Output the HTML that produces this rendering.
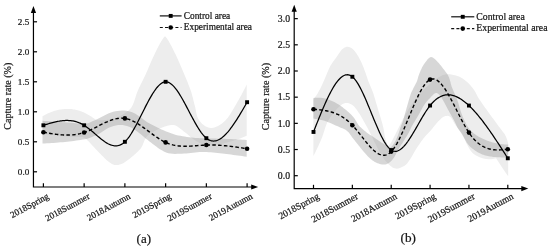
<!DOCTYPE html><html><head><meta charset="utf-8"><title>Capture rate</title><style>html,body{margin:0;padding:0;background:#fff}svg{display:block}</style></head><body><svg width="550" height="249" viewBox="0 0 550 249" font-family="'Liberation Serif', 'Times New Roman', serif" fill="#111"><style>text{stroke:#222;stroke-width:0.22px}</style>
<rect width="550" height="249" fill="#fff"/>
<path d="M42.5 116.18 L43.41 115.66 L44.33 115.16 L45.25 114.69 L46.18 114.22 L47.12 113.78 L48.07 113.35 L49.02 112.93 L49.99 112.53 L50.96 112.14 L51.93 111.77 L52.91 111.43 L53.9 111.11 L54.9 110.81 L55.9 110.53 L56.91 110.26 L57.93 110.02 L58.96 109.79 L60 109.59 L61.03 109.41 L62.07 109.26 L63.11 109.14 L64.15 109.04 L65.19 108.97 L66.24 108.93 L67.27 108.91 L68.31 108.92 L69.35 108.96 L70.38 109.03 L71.41 109.12 L72.43 109.24 L73.46 109.39 L74.48 109.56 L75.51 109.77 L76.53 110 L77.54 110.26 L78.56 110.55 L79.57 110.87 L80.58 111.22 L81.57 111.58 L82.55 111.95 L83.51 112.33 L84.46 112.74 L85.4 113.18 L86.32 113.65 L87.24 114.16 L88.14 114.68 L89.04 115.21 L89.93 115.75 L90.81 116.3 L91.7 116.84 L92.54 117.42 L93.36 118.01 L94.2 118.6 L95.13 119.16 L96.15 119.64 L97.18 119.96 L98.22 120.17 L99.25 120.27 L100.29 120.3 L101.33 120.28 L102.36 120.23 L103.4 120.18 L104.43 120.12 L105.46 120.05 L106.5 119.96 L107.53 119.84 L108.56 119.7 L109.59 119.53 L110.63 119.33 L111.66 119.09 L112.68 118.81 L113.69 118.51 L114.68 118.19 L115.66 117.84 L116.62 117.48 L117.58 117.09 L118.54 116.67 L119.49 116.24 L120.44 115.79 L121.37 115.31 L122.28 114.81 L123.17 114.28 L124.04 113.73 L124.91 113.16 L125.78 112.56 L126.64 111.94 L127.49 111.3 L128.32 110.64 L129.12 109.96 L129.88 109.24 L130.58 108.47 L131.22 107.65 L131.79 106.77 L132.29 105.84 L132.75 104.89 L133.17 103.92 L133.57 102.95 L133.94 101.98 L134.29 100.99 L134.63 100.01 L134.95 99.02 L135.27 98.02 L135.58 97.03 L135.89 96.04 L136.21 95.05 L136.53 94.06 L136.87 93.08 L137.23 92.11 L137.6 91.14 L138 90.18 L138.43 89.24 L138.87 88.3 L139.32 87.36 L139.78 86.42 L140.23 85.49 L140.69 84.55 L141.15 83.62 L141.62 82.68 L142.08 81.75 L142.54 80.82 L143 79.88 L143.46 78.95 L143.92 78.01 L144.38 77.07 L144.83 76.13 L145.27 75.19 L145.71 74.25 L146.15 73.3 L146.58 72.35 L147 71.4 L147.41 70.44 L147.82 69.49 L148.22 68.53 L148.62 67.57 L149.03 66.6 L149.43 65.65 L149.84 64.69 L150.25 63.73 L150.67 62.78 L151.09 61.82 L151.51 60.87 L151.94 59.92 L152.36 58.97 L152.79 58.02 L153.22 57.07 L153.66 56.13 L154.1 55.18 L154.54 54.24 L154.99 53.3 L155.44 52.36 L155.89 51.42 L156.35 50.49 L156.81 49.55 L157.28 48.62 L157.76 47.7 L158.24 46.77 L158.72 45.85 L159.21 44.93 L159.71 44.02 L160.23 43.11 L160.75 42.21 L161.27 41.31 L161.81 40.42 L162.37 39.54 L162.96 38.68 L163.57 37.84 L164.26 37.06 L165 36.32 L165.96 37.3 L166.81 38.35 L167.58 39.48 L168.32 40.62 L169.01 41.8 L169.69 42.97 L170.36 44.16 L171.01 45.35 L171.65 46.56 L172.28 47.77 L172.9 48.98 L173.51 50.2 L174.11 51.42 L174.7 52.64 L175.29 53.87 L175.87 55.1 L176.44 56.34 L177.01 57.58 L177.57 58.82 L178.13 60.06 L178.68 61.3 L179.23 62.55 L179.78 63.8 L180.31 65.05 L180.85 66.3 L181.38 67.55 L181.91 68.81 L182.44 70.06 L182.97 71.32 L183.5 72.57 L184.03 73.82 L184.56 75.08 L185.09 76.33 L185.62 77.58 L186.15 78.84 L186.67 80.1 L187.19 81.35 L187.71 82.62 L188.22 83.88 L188.72 85.14 L189.21 86.41 L189.7 87.69 L190.18 88.96 L190.64 90.24 L191.07 91.54 L191.47 92.84 L191.85 94.14 L192.21 95.46 L192.55 96.77 L192.89 98.09 L193.22 99.42 L193.54 100.74 L193.87 102.06 L194.2 103.39 L194.54 104.71 L194.89 106.02 L195.24 107.33 L195.53 108.64 L195.78 109.95 L196.01 111.25 L196.24 112.55 L196.51 113.85 L196.83 115.14 L197.24 116.44 L197.74 117.73 L198.38 119.03 L199.17 120.32 L200.11 121.6 L201.14 122.79 L202.23 123.89 L203.39 124.87 L204.58 125.74 L205.81 126.48 L207.06 127.09 L208.31 127.55 L209.56 127.86 L210.79 128.01 L211.99 127.98 L213.19 127.82 L214.39 127.53 L215.6 127.12 L216.82 126.61 L218.03 126.01 L219.24 125.31 L220.45 124.52 L221.64 123.66 L222.82 122.72 L223.99 121.73 L225.14 120.67 L226.2 119.6 L227.15 118.53 L228.01 117.45 L228.8 116.37 L229.53 115.28 L230.23 114.18 L230.91 113.05 L231.58 111.91 L232.27 110.74 L232.97 109.57 L233.67 108.39 L234.36 107.22 L235.06 106.05 L235.75 104.88 L236.44 103.7 L237.13 102.53 L237.81 101.35 L238.49 100.17 L239.16 98.99 L239.82 97.8 L240.48 96.61 L241.14 95.42 L241.78 94.22 L242.41 93.01 L243.05 91.81 L243.67 90.6 L244.29 89.39 L244.91 88.17 L245.52 86.95 L246.11 85.73 L246.7 84.5 L246.7 135.8 L245.5 136.34 L244.3 136.86 L243.09 137.35 L241.88 137.83 L240.66 138.29 L239.44 138.73 L238.22 139.16 L237 139.57 L235.77 139.96 L234.54 140.35 L233.3 140.72 L232.07 141.08 L230.83 141.44 L229.59 141.78 L228.35 142.12 L227.1 142.45 L225.86 142.78 L224.61 143.1 L223.35 143.41 L222.08 143.71 L220.8 144 L219.51 144.26 L218.22 144.49 L216.91 144.7 L215.61 144.87 L214.31 145.01 L213 145.11 L211.7 145.17 L210.41 145.18 L209.12 145.14 L207.84 145.04 L206.57 144.89 L205.31 144.67 L204.06 144.39 L202.82 144.04 L201.6 143.64 L200.39 143.17 L199.19 142.65 L198.01 142.08 L196.85 141.45 L195.72 140.79 L194.6 140.08 L193.51 139.33 L192.45 138.54 L191.41 137.73 L190.42 136.88 L189.45 136.02 L188.49 135.16 L187.53 134.3 L186.55 133.47 L185.54 132.68 L184.51 131.9 L183.47 131.13 L182.44 130.35 L181.41 129.58 L180.41 128.78 L179.42 127.97 L178.41 127.17 L177.33 126.38 L176.15 125.74 L174.9 125.31 L173.62 125.07 L172.33 125 L171.06 125.06 L169.78 125.21 L168.51 125.45 L167.24 125.79 L165.98 126.2 L164.74 126.62 L163.52 127.06 L162.31 127.5 L161.11 127.96 L159.92 128.44 L158.74 128.95 L157.56 129.48 L156.39 130.05 L155.25 130.65 L154.12 131.27 L153 131.91 L151.88 132.57 L150.78 133.26 L149.71 133.98 L148.69 134.77 L147.7 135.61 L146.8 136.54 L146.02 137.56 L145.35 138.66 L144.76 139.82 L144.23 141.03 L143.74 142.25 L143.26 143.49 L142.76 144.71 L142.22 145.91 L141.62 147.06 L140.94 148.14 L140.14 149.15 L139.25 150.09 L138.35 151.01 L137.44 151.92 L136.51 152.82 L135.56 153.7 L134.61 154.57 L133.63 155.42 L132.64 156.26 L131.64 157.1 L130.63 157.91 L129.63 158.7 L128.61 159.48 L127.58 160.24 L126.53 160.99 L125.46 161.73 L124.36 162.46 L123.22 163.14 L122.04 163.72 L120.84 164.21 L119.62 164.61 L118.39 164.93 L117.12 165.11 L115.81 165.12 L114.49 164.95 L113.2 164.57 L111.98 163.99 L110.84 163.29 L109.74 162.57 L108.69 161.82 L107.68 161.03 L106.71 160.21 L105.76 159.34 L104.84 158.44 L103.93 157.52 L103.02 156.6 L102.11 155.67 L101.21 154.75 L100.3 153.83 L99.4 152.9 L98.5 151.97 L97.61 151.04 L96.71 150.11 L95.82 149.18 L94.93 148.25 L94.04 147.31 L93.16 146.36 L92.29 145.41 L91.43 144.45 L90.56 143.49 L89.69 142.53 L88.8 141.59 L87.87 140.63 L86.91 139.69 L85.88 138.82 L84.8 138.06 L83.66 137.47 L82.43 137.08 L81.15 136.9 L79.86 136.8 L78.57 136.77 L77.27 136.76 L75.98 136.78 L74.69 136.78 L73.39 136.77 L72.1 136.71 L70.81 136.62 L69.53 136.52 L68.24 136.44 L66.95 136.35 L65.66 136.25 L64.37 136.16 L63.08 136.06 L61.79 135.96 L60.5 135.85 L59.22 135.73 L57.93 135.61 L56.64 135.49 L55.35 135.36 L54.07 135.24 L52.78 135.11 L51.5 134.98 L50.21 134.85 L48.92 134.71 L47.64 134.58 L46.35 134.44 L45.07 134.29 L43.78 134.15 L42.5 134Z" fill="#ededed"/>
<path d="M42.5 120.8 L44.71 120.95 L46.93 121.1 L49.14 121.25 L51.35 121.4 L53.56 121.55 L55.77 121.71 L57.99 121.86 L60.2 122.01 L62.41 122.17 L64.62 122.34 L66.83 122.51 L69.05 122.69 L71.26 122.87 L73.47 123.05 L75.68 123.23 L77.89 123.39 L80.1 123.55 L82.31 123.7 L84.52 123.81 L86.69 123.57 L88.81 122.95 L90.9 122.08 L92.97 121.11 L95.03 120.19 L97.06 119.27 L99.03 118.28 L100.97 117.25 L102.9 116.19 L104.85 115.15 L106.84 114.16 L108.9 113.24 L111.03 112.44 L113.2 111.78 L115.4 111.26 L117.61 110.89 L119.82 110.65 L122.02 110.55 L124.2 110.59 L126.37 110.8 L128.53 111.19 L130.68 111.77 L132.8 112.55 L134.88 113.54 L136.89 114.68 L138.78 115.92 L140.59 117.22 L142.35 118.56 L144.1 119.88 L145.86 121.18 L147.66 122.41 L149.54 123.55 L151.49 124.59 L153.46 125.62 L155.43 126.62 L157.41 127.6 L159.41 128.55 L161.43 129.47 L163.47 130.36 L165.54 131.22 L167.61 132.05 L169.69 132.84 L171.78 133.58 L173.88 134.27 L176.01 134.88 L178.16 135.42 L180.35 135.86 L182.54 136.25 L184.74 136.61 L186.94 136.93 L189.15 137.22 L191.35 137.48 L193.55 137.71 L195.76 137.92 L197.97 138.09 L200.18 138.24 L202.39 138.36 L204.6 138.45 L206.82 138.52 L209.04 138.57 L211.26 138.59 L213.47 138.61 L215.69 138.62 L217.91 138.64 L220.13 138.66 L222.34 138.71 L224.56 138.78 L226.77 138.88 L228.99 138.98 L231.2 139.08 L233.42 139.19 L235.63 139.3 L237.85 139.42 L240.06 139.55 L242.27 139.69 L244.49 139.84 L246.7 140 L246.7 156.8 L244.48 156.45 L242.25 156.12 L240.02 155.79 L237.8 155.48 L235.57 155.18 L233.34 154.88 L231.1 154.59 L228.87 154.3 L226.63 154.01 L224.4 153.72 L222.16 153.45 L219.92 153.2 L217.68 152.96 L215.44 152.74 L213.2 152.54 L210.95 152.35 L208.71 152.18 L206.47 152.03 L204.22 151.92 L201.98 151.92 L199.73 152.01 L197.49 152.17 L195.24 152.38 L192.99 152.63 L190.75 152.9 L188.5 153.16 L186.25 153.4 L184.01 153.6 L181.76 153.74 L179.52 153.81 L177.27 153.86 L175.02 153.88 L172.77 153.81 L170.54 153.59 L168.31 153.16 L166.09 152.46 L163.91 151.47 L161.85 150.36 L159.9 149.17 L158.05 147.92 L156.25 146.62 L154.5 145.28 L152.75 143.92 L150.99 142.55 L149.2 141.19 L147.43 139.8 L145.7 138.39 L143.99 136.96 L142.27 135.53 L140.55 134.1 L138.8 132.68 L137.01 131.28 L135.16 129.91 L133.23 128.64 L131.21 127.56 L129.11 126.66 L126.98 125.94 L124.82 125.4 L122.64 125.07 L120.4 124.97 L118.13 125.1 L115.86 125.43 L113.6 125.95 L111.39 126.65 L109.25 127.51 L107.21 128.53 L105.26 129.68 L103.37 130.91 L101.49 132.16 L99.61 133.38 L97.68 134.52 L95.67 135.52 L93.58 136.37 L91.48 137.2 L89.36 137.98 L87.22 138.66 L85.03 139.21 L82.81 139.6 L80.58 139.95 L78.35 140.29 L76.12 140.61 L73.89 140.92 L71.66 141.2 L69.42 141.47 L67.19 141.72 L64.95 141.95 L62.71 142.17 L60.47 142.36 L58.22 142.54 L55.98 142.73 L53.74 142.9 L51.49 143.07 L49.25 143.23 L47 143.37 L44.75 143.5 L42.5 143.6Z" fill="rgba(150,150,150,0.385)"/>
<path d="M43.4 125.3 L44.42 124.99 L45.44 124.67 L46.46 124.36 L47.47 124.05 L48.49 123.75 L49.51 123.46 L50.53 123.17 L51.55 122.88 L52.57 122.61 L53.59 122.35 L54.6 122.1 L55.62 121.87 L56.64 121.64 L57.66 121.44 L58.68 121.25 L59.7 121.07 L60.71 120.92 L61.73 120.78 L62.75 120.67 L63.77 120.58 L64.79 120.52 L65.81 120.47 L66.83 120.46 L67.84 120.47 L68.86 120.51 L69.88 120.58 L70.9 120.68 L71.92 120.81 L72.94 120.97 L73.95 121.17 L74.97 121.41 L75.99 121.68 L77.01 121.99 L78.03 122.33 L79.05 122.72 L80.07 123.15 L81.08 123.62 L82.1 124.13 L83.12 124.69 L84.14 125.3 L85.16 125.95 L86.18 126.65 L87.2 127.38 L88.21 128.15 L89.23 128.94 L90.25 129.77 L91.27 130.61 L92.29 131.47 L93.31 132.34 L94.33 133.22 L95.34 134.11 L96.36 134.99 L97.38 135.87 L98.4 136.74 L99.42 137.6 L100.44 138.43 L101.45 139.25 L102.47 140.04 L103.49 140.79 L104.51 141.52 L105.53 142.2 L106.55 142.84 L107.57 143.43 L108.58 143.96 L109.6 144.44 L110.62 144.86 L111.64 145.21 L112.66 145.49 L113.68 145.7 L114.69 145.83 L115.71 145.87 L116.73 145.83 L117.75 145.69 L118.77 145.46 L119.79 145.13 L120.81 144.69 L121.82 144.14 L122.84 143.48 L123.86 142.7 L124.88 141.8 L125.9 140.77 L126.92 139.63 L127.94 138.37 L128.95 137.01 L129.97 135.55 L130.99 134 L132.01 132.37 L133.03 130.67 L134.05 128.9 L135.06 127.07 L136.08 125.18 L137.1 123.26 L138.12 121.29 L139.14 119.3 L140.16 117.29 L141.18 115.26 L142.19 113.22 L143.21 111.19 L144.23 109.16 L145.25 107.15 L146.27 105.16 L147.29 103.21 L148.31 101.29 L149.32 99.42 L150.34 97.6 L151.36 95.84 L152.38 94.15 L153.4 92.53 L154.42 91 L155.44 89.56 L156.45 88.22 L157.47 86.98 L158.49 85.86 L159.51 84.86 L160.53 83.98 L161.55 83.25 L162.56 82.65 L163.58 82.21 L164.6 81.92 L165.62 81.8 L166.64 81.85 L167.66 82.07 L168.68 82.44 L169.69 82.97 L170.71 83.64 L171.73 84.44 L172.75 85.37 L173.77 86.42 L174.79 87.59 L175.81 88.86 L176.82 90.22 L177.84 91.68 L178.86 93.22 L179.88 94.83 L180.9 96.51 L181.92 98.26 L182.93 100.05 L183.95 101.89 L184.97 103.76 L185.99 105.66 L187.01 107.59 L188.03 109.53 L189.05 111.47 L190.06 113.42 L191.08 115.35 L192.1 117.27 L193.12 119.17 L194.14 121.03 L195.16 122.86 L196.18 124.64 L197.19 126.36 L198.21 128.03 L199.23 129.62 L200.25 131.14 L201.27 132.57 L202.29 133.91 L203.3 135.15 L204.32 136.28 L205.34 137.3 L206.36 138.2 L207.38 138.97 L208.4 139.61 L209.42 140.13 L210.43 140.53 L211.45 140.81 L212.47 140.97 L213.49 141.03 L214.51 140.98 L215.53 140.83 L216.55 140.57 L217.56 140.22 L218.58 139.77 L219.6 139.23 L220.62 138.61 L221.64 137.9 L222.66 137.11 L223.67 136.24 L224.69 135.29 L225.71 134.28 L226.73 133.2 L227.75 132.05 L228.77 130.84 L229.79 129.57 L230.8 128.24 L231.82 126.87 L232.84 125.44 L233.86 123.97 L234.88 122.46 L235.9 120.91 L236.92 119.32 L237.93 117.7 L238.95 116.05 L239.97 114.38 L240.99 112.68 L242.01 110.96 L243.03 109.23 L244.04 107.48 L245.06 105.73 L246.08 103.97 L247.1 102.2" fill="none" stroke="#000" stroke-width="1.25"/>
<path d="M43.4 132.2 L44.42 132.38 L45.44 132.56 L46.46 132.75 L47.47 132.92 L48.49 133.1 L49.51 133.27 L50.53 133.44 L51.55 133.61 L52.57 133.76 L53.59 133.92 L54.6 134.06 L55.62 134.2 L56.64 134.33 L57.66 134.46 L58.68 134.57 L59.7 134.67 L60.71 134.77 L61.73 134.85 L62.75 134.92 L63.77 134.98 L64.79 135.02 L65.81 135.05 L66.83 135.07 L67.84 135.07 L68.86 135.06 L69.88 135.03 L70.9 134.98 L71.92 134.91 L72.94 134.83 L73.95 134.72 L74.97 134.6 L75.99 134.46 L77.01 134.29 L78.03 134.11 L79.05 133.9 L80.07 133.67 L81.08 133.41 L82.1 133.13 L83.12 132.83 L84.14 132.5 L85.16 132.14 L86.18 131.76 L87.2 131.36 L88.21 130.94 L89.23 130.5 L90.25 130.04 L91.27 129.57 L92.29 129.08 L93.31 128.59 L94.33 128.08 L95.34 127.57 L96.36 127.05 L97.38 126.53 L98.4 126.01 L99.42 125.49 L100.44 124.97 L101.45 124.46 L102.47 123.95 L103.49 123.46 L104.51 122.97 L105.53 122.49 L106.55 122.03 L107.57 121.59 L108.58 121.16 L109.6 120.76 L110.62 120.37 L111.64 120.01 L112.66 119.68 L113.68 119.37 L114.69 119.1 L115.71 118.85 L116.73 118.64 L117.75 118.47 L118.77 118.33 L119.79 118.23 L120.81 118.17 L121.82 118.16 L122.84 118.19 L123.86 118.27 L124.88 118.4 L125.9 118.58 L126.92 118.81 L127.94 119.08 L128.95 119.4 L129.97 119.76 L130.99 120.16 L132.01 120.6 L133.03 121.08 L134.05 121.59 L135.06 122.13 L136.08 122.7 L137.1 123.3 L138.12 123.92 L139.14 124.57 L140.16 125.24 L141.18 125.93 L142.19 126.63 L143.21 127.35 L144.23 128.07 L145.25 128.81 L146.27 129.56 L147.29 130.32 L148.31 131.07 L149.32 131.83 L150.34 132.59 L151.36 133.34 L152.38 134.09 L153.4 134.84 L154.42 135.57 L155.44 136.29 L156.45 137 L157.47 137.69 L158.49 138.36 L159.51 139.02 L160.53 139.65 L161.55 140.26 L162.56 140.84 L163.58 141.39 L164.6 141.91 L165.62 142.4 L166.64 142.85 L167.66 143.27 L168.68 143.66 L169.69 144.01 L170.71 144.34 L171.73 144.63 L172.75 144.9 L173.77 145.13 L174.79 145.35 L175.81 145.53 L176.82 145.7 L177.84 145.84 L178.86 145.95 L179.88 146.05 L180.9 146.13 L181.92 146.19 L182.93 146.23 L183.95 146.26 L184.97 146.27 L185.99 146.27 L187.01 146.25 L188.03 146.23 L189.05 146.19 L190.06 146.14 L191.08 146.09 L192.1 146.02 L193.12 145.96 L194.14 145.88 L195.16 145.81 L196.18 145.73 L197.19 145.65 L198.21 145.57 L199.23 145.49 L200.25 145.41 L201.27 145.33 L202.29 145.26 L203.3 145.2 L204.32 145.14 L205.34 145.08 L206.36 145.04 L207.38 145.01 L208.4 144.98 L209.42 144.97 L210.43 144.96 L211.45 144.96 L212.47 144.97 L213.49 144.99 L214.51 145.02 L215.53 145.06 L216.55 145.1 L217.56 145.15 L218.58 145.21 L219.6 145.27 L220.62 145.34 L221.64 145.42 L222.66 145.5 L223.67 145.59 L224.69 145.69 L225.71 145.79 L226.73 145.89 L227.75 146 L228.77 146.12 L229.79 146.24 L230.8 146.36 L231.82 146.49 L232.84 146.62 L233.86 146.75 L234.88 146.89 L235.9 147.03 L236.92 147.17 L237.93 147.32 L238.95 147.47 L239.97 147.62 L240.99 147.77 L242.01 147.92 L243.03 148.08 L244.04 148.23 L245.06 148.39 L246.08 148.54 L247.1 148.7" fill="none" stroke="#000" stroke-width="1.4" stroke-dasharray="3.5 2.3"/>
<rect x="41.45" y="123.35" width="3.9" height="3.9" fill="#000"/><rect x="82.19" y="123.35" width="3.9" height="3.9" fill="#000"/><rect x="122.93" y="139.85" width="3.9" height="3.9" fill="#000"/><rect x="163.67" y="79.85" width="3.9" height="3.9" fill="#000"/><rect x="204.41" y="136.25" width="3.9" height="3.9" fill="#000"/><rect x="245.15" y="100.25" width="3.9" height="3.9" fill="#000"/>
<circle cx="43.4" cy="132.2" r="2.3" fill="#000"/><circle cx="84.14" cy="132.5" r="2.3" fill="#000"/><circle cx="124.88" cy="118.4" r="2.3" fill="#000"/><circle cx="165.62" cy="142.4" r="2.3" fill="#000"/><circle cx="206.36" cy="145.04" r="2.3" fill="#000"/><circle cx="247.1" cy="148.7" r="2.3" fill="#000"/>
<path d="M33.45 11 V187 H253.2" fill="none" stroke="#000" stroke-width="1.2"/><path d="M33.45 6 l-2.6 7 h5.2z" fill="#000"/><path d="M258.2 187 l-7 -2.6 v5.2z" fill="#000"/><path d="M33.45 171.8 h3.6" stroke="#000" stroke-width="1.2"/><text x="29.25" y="174.82" font-size="9.15" text-anchor="end">0.0</text><path d="M33.45 141.8 h3.6" stroke="#000" stroke-width="1.2"/><text x="29.25" y="144.82" font-size="9.15" text-anchor="end">0.5</text><path d="M33.45 111.8 h3.6" stroke="#000" stroke-width="1.2"/><text x="29.25" y="114.82" font-size="9.15" text-anchor="end">1.0</text><path d="M33.45 81.8 h3.6" stroke="#000" stroke-width="1.2"/><text x="29.25" y="84.82" font-size="9.15" text-anchor="end">1.5</text><path d="M33.45 51.8 h3.6" stroke="#000" stroke-width="1.2"/><text x="29.25" y="54.82" font-size="9.15" text-anchor="end">2.0</text><path d="M33.45 21.8 h3.6" stroke="#000" stroke-width="1.2"/><text x="29.25" y="24.82" font-size="9.15" text-anchor="end">2.5</text><path d="M43.4 187 v-3.8" stroke="#000" stroke-width="1.2"/><text transform="translate(49.6 198) rotate(-28.5)" font-size="9.1" text-anchor="end">2018Spring</text><path d="M84.14 187 v-3.8" stroke="#000" stroke-width="1.2"/><text transform="translate(90.34 198) rotate(-28.5)" font-size="9.1" text-anchor="end">2018Summer</text><path d="M124.88 187 v-3.8" stroke="#000" stroke-width="1.2"/><text transform="translate(131.08 198) rotate(-28.5)" font-size="9.1" text-anchor="end">2018Autumn</text><path d="M165.62 187 v-3.8" stroke="#000" stroke-width="1.2"/><text transform="translate(171.82 198) rotate(-28.5)" font-size="9.1" text-anchor="end">2019Spring</text><path d="M206.36 187 v-3.8" stroke="#000" stroke-width="1.2"/><text transform="translate(212.56 198) rotate(-28.5)" font-size="9.1" text-anchor="end">2019Summer</text><path d="M247.1 187 v-3.8" stroke="#000" stroke-width="1.2"/><text transform="translate(253.3 198) rotate(-28.5)" font-size="9.1" text-anchor="end">2019Autumn</text><text transform="translate(11.2 96.2) rotate(-90)" font-size="10.05" text-anchor="middle">Capture rate (%)</text>
<path d="M159.8 15.9 H181.6" stroke="#111" stroke-width="1.2"/><rect x="168.75" y="13.95" width="3.9" height="3.9" fill="#000"/><path d="M159.8 27.5 H181.6" stroke="#111" stroke-width="1.2" stroke-dasharray="3 2.2"/><circle cx="170.7" cy="27.5" r="2.3" fill="#000"/><text x="183.8" y="18.52" font-size="9.35">Control area</text><text x="183.8" y="30.12" font-size="9.35">Experimental area</text>
<text x="143.8" y="242.7" font-size="13" text-anchor="middle">(a)</text>
<path d="M313.4 99.5 L314.06 98.63 L314.71 97.75 L315.35 96.86 L315.97 95.97 L316.58 95.06 L317.17 94.15 L317.74 93.23 L318.29 92.29 L318.82 91.34 L319.33 90.37 L319.83 89.4 L320.32 88.43 L320.8 87.46 L321.28 86.48 L321.75 85.5 L322.22 84.51 L322.67 83.53 L323.13 82.54 L323.58 81.54 L324.02 80.55 L324.45 79.55 L324.88 78.55 L325.29 77.54 L325.7 76.53 L326.11 75.53 L326.53 74.52 L326.94 73.51 L327.37 72.51 L327.8 71.51 L328.23 70.51 L328.67 69.51 L329.12 68.52 L329.59 67.53 L330.08 66.56 L330.6 65.6 L331.15 64.66 L331.73 63.74 L332.34 62.83 L332.96 61.94 L333.6 61.06 L334.24 60.18 L334.89 59.3 L335.53 58.42 L336.17 57.55 L336.81 56.66 L337.43 55.77 L338.04 54.87 L338.64 53.97 L339.24 53.06 L339.85 52.15 L340.46 51.25 L341.1 50.39 L341.8 49.61 L342.6 48.88 L343.52 48.19 L344.55 47.56 L345.58 47.13 L346.62 46.87 L347.66 46.8 L348.7 46.89 L349.74 47.17 L350.78 47.63 L351.8 48.27 L352.69 48.98 L353.45 49.72 L354.15 50.5 L354.82 51.35 L355.49 52.22 L356.14 53.1 L356.77 53.98 L357.37 54.88 L357.94 55.81 L358.47 56.77 L358.99 57.72 L359.51 58.69 L360.01 59.65 L360.5 60.62 L360.97 61.6 L361.43 62.59 L361.88 63.58 L362.3 64.58 L362.72 65.59 L363.14 66.6 L363.55 67.6 L363.95 68.62 L364.34 69.63 L364.73 70.65 L365.11 71.67 L365.47 72.69 L365.83 73.72 L366.17 74.76 L366.51 75.79 L366.85 76.82 L367.2 77.86 L367.55 78.89 L367.91 79.92 L368.28 80.94 L368.67 81.95 L369.07 82.96 L369.49 83.97 L369.91 84.98 L370.33 85.98 L370.76 86.99 L371.18 87.99 L371.6 89 L372.01 90.01 L372.41 91.02 L372.79 92.04 L373.16 93.06 L373.51 94.09 L373.84 95.13 L374.16 96.17 L374.47 97.21 L374.78 98.26 L375.09 99.3 L375.4 100.34 L375.7 101.39 L376.01 102.43 L376.32 103.48 L376.63 104.52 L376.93 105.56 L377.24 106.61 L377.56 107.65 L377.87 108.69 L378.18 109.74 L378.5 110.78 L378.81 111.82 L379.13 112.86 L379.45 113.9 L379.76 114.94 L380.08 115.99 L380.39 117.03 L380.71 118.07 L381.02 119.11 L381.34 120.16 L381.65 121.2 L381.95 122.25 L382.23 123.3 L382.5 124.35 L382.77 125.41 L383.03 126.46 L383.28 127.52 L383.53 128.58 L383.75 129.65 L383.94 130.72 L384.11 131.8 L384.27 132.88 L384.43 133.95 L384.61 135.03 L384.81 136.1 L385.04 137.16 L385.29 138.22 L385.57 139.27 L385.87 140.31 L386.18 141.35 L386.52 142.39 L386.87 143.42 L387.23 144.45 L387.61 145.48 L388 146.5 L388.79 145.57 L389.57 144.64 L390.31 143.68 L391.01 142.7 L391.64 141.68 L392.19 140.61 L392.73 139.53 L393.27 138.45 L393.81 137.37 L394.35 136.3 L394.89 135.22 L395.43 134.14 L395.97 133.06 L396.51 131.98 L397.05 130.9 L397.59 129.82 L398.13 128.74 L398.67 127.67 L399.21 126.59 L399.75 125.51 L400.29 124.43 L400.82 123.35 L401.36 122.27 L401.9 121.19 L402.44 120.11 L402.98 119.04 L403.53 117.96 L404.09 116.9 L404.67 115.84 L405.26 114.79 L405.86 113.74 L406.48 112.7 L407.1 111.67 L407.73 110.64 L408.36 109.61 L409 108.59 L409.64 107.56 L410.29 106.54 L410.95 105.53 L411.61 104.52 L412.29 103.52 L412.98 102.54 L413.68 101.56 L414.4 100.59 L415.12 99.62 L415.86 98.67 L416.6 97.72 L417.36 96.77 L418.13 95.84 L418.92 94.92 L419.71 94.01 L420.52 93.11 L421.33 92.23 L422.16 91.35 L423 90.49 L423.84 89.63 L424.7 88.78 L425.56 87.93 L426.43 87.09 L427.31 86.26 L428.19 85.44 L429.09 84.64 L429.99 83.85 L430.91 83.06 L431.83 82.28 L432.76 81.51 L433.7 80.75 L434.64 79.99 L435.6 79.27 L436.58 78.59 L437.58 77.94 L438.6 77.31 L439.66 76.71 L440.75 76.13 L441.88 75.58 L443.03 75.12 L444.19 74.74 L445.36 74.46 L446.54 74.28 L447.72 74.19 L448.92 74.19 L450.12 74.28 L451.32 74.43 L452.52 74.65 L453.71 74.93 L454.89 75.24 L456.05 75.58 L457.19 75.95 L458.32 76.36 L459.43 76.83 L460.53 77.37 L461.6 77.95 L462.64 78.57 L463.64 79.22 L464.62 79.92 L465.58 80.66 L466.51 81.44 L467.42 82.24 L468.29 83.07 L469.13 83.92 L469.95 84.81 L470.74 85.74 L471.51 86.67 L472.27 87.61 L473 88.57 L473.7 89.55 L474.38 90.54 L475.03 91.56 L475.64 92.6 L476.19 93.68 L476.72 94.76 L477.26 95.84 L477.83 96.91 L478.46 97.93 L479.13 98.93 L479.8 99.93 L480.48 100.93 L481.16 101.93 L481.84 102.93 L482.52 103.92 L483.21 104.91 L483.89 105.9 L484.58 106.89 L485.28 107.88 L485.97 108.87 L486.67 109.85 L487.37 110.83 L488.08 111.81 L488.79 112.78 L489.5 113.76 L490.21 114.73 L490.92 115.7 L491.64 116.68 L492.35 117.65 L493.07 118.62 L493.78 119.59 L494.49 120.56 L495.21 121.54 L495.92 122.51 L496.64 123.48 L497.36 124.45 L498.07 125.42 L498.79 126.39 L499.51 127.35 L500.24 128.31 L500.98 129.26 L501.72 130.21 L502.45 131.17 L503.18 132.13 L503.91 133.1 L504.61 134.09 L505.22 135.13 L505.76 136.21 L506.23 137.32 L506.66 138.46 L507.05 139.61 L507.43 140.77 L507.77 141.92 L508.02 143.1 L508.2 144.3 L508.2 176.2 L507.65 175.48 L507.1 174.77 L506.56 174.04 L506.02 173.31 L505.5 172.58 L504.99 171.83 L504.48 171.08 L503.97 170.33 L503.47 169.58 L502.97 168.83 L502.47 168.08 L501.97 167.32 L501.47 166.57 L500.98 165.81 L500.49 165.05 L500 164.29 L499.51 163.53 L499.02 162.77 L498.53 162.01 L498.04 161.25 L497.55 160.49 L497.07 159.73 L496.58 158.96 L496.1 158.2 L494.96 158.52 L493.83 158.79 L492.69 158.99 L491.55 159.13 L490.41 159.19 L489.27 159.19 L488.13 159.14 L486.98 159.03 L485.84 158.88 L484.69 158.68 L483.55 158.43 L482.41 158.15 L481.3 157.83 L480.21 157.47 L479.14 157.07 L478.09 156.61 L477.05 156.1 L476.02 155.51 L475.01 154.87 L474.06 154.2 L473.15 153.47 L472.3 152.69 L471.52 151.85 L470.81 150.95 L470.16 149.97 L469.54 148.99 L468.95 148 L468.37 147 L467.82 146 L467.27 144.99 L466.74 143.97 L466.22 142.94 L465.73 141.89 L465.25 140.85 L464.77 139.8 L464.27 138.75 L463.75 137.73 L463.19 136.72 L462.61 135.72 L462.01 134.74 L461.4 133.76 L460.77 132.79 L460.14 131.82 L459.51 130.86 L458.86 129.9 L458.21 128.95 L457.56 128 L456.9 127.05 L456.24 126.11 L455.59 125.16 L454.94 124.21 L454.33 123.24 L453.77 122.25 L453.23 121.26 L452.68 120.25 L452.09 119.26 L451.44 118.27 L450.68 117.32 L449.72 116.57 L448.65 116.08 L447.58 115.87 L446.47 115.89 L445.33 116.11 L444.18 116.51 L443.09 117.08 L442.1 117.8 L441.18 118.59 L440.31 119.38 L439.48 120.18 L438.67 120.99 L437.89 121.81 L437.12 122.65 L436.37 123.5 L435.63 124.38 L434.9 125.28 L434.17 126.18 L433.46 127.08 L432.74 127.98 L432.02 128.88 L431.29 129.77 L430.54 130.65 L429.78 131.51 L428.99 132.35 L428.19 133.19 L427.39 134.01 L426.59 134.85 L425.8 135.69 L425.04 136.55 L424.3 137.44 L423.59 138.35 L422.89 139.27 L422.2 140.19 L421.52 141.12 L420.85 142.06 L420.19 143.01 L419.53 143.95 L418.88 144.9 L418.22 145.86 L417.58 146.81 L416.94 147.77 L416.31 148.74 L415.69 149.71 L415.08 150.69 L414.49 151.68 L413.92 152.68 L413.36 153.69 L412.8 154.7 L412.24 155.71 L411.67 156.71 L411.08 157.7 L410.48 158.68 L409.86 159.64 L409.22 160.59 L408.56 161.54 L407.87 162.48 L407.15 163.41 L406.36 164.25 L405.49 165 L404.55 165.67 L403.56 166.27 L402.53 166.84 L401.48 167.37 L400.4 167.87 L399.26 168.28 L398.08 168.56 L396.89 168.68 L395.73 168.62 L394.63 168.35 L393.58 167.9 L392.57 167.38 L391.59 166.78 L390.64 166.11 L389.73 165.37 L388.85 164.57 L388.02 163.72 L387.22 162.84 L386.44 161.97 L385.68 161.09 L384.94 160.21 L384.23 159.31 L383.55 158.4 L382.9 157.46 L382.29 156.49 L381.71 155.49 L381.13 154.49 L380.56 153.48 L380 152.48 L379.44 151.47 L378.88 150.46 L378.33 149.45 L377.78 148.43 L377.24 147.42 L376.71 146.39 L376.19 145.37 L375.67 144.34 L375.15 143.3 L374.64 142.27 L374.14 141.23 L373.63 140.2 L373.13 139.16 L372.63 138.12 L372.12 137.09 L371.62 136.05 L371.11 135.01 L370.6 133.98 L370.08 132.95 L369.56 131.92 L369.03 130.89 L368.5 129.87 L367.96 128.85 L367.42 127.84 L366.87 126.82 L366.31 125.81 L365.76 124.8 L365.2 123.79 L364.64 122.79 L364.07 121.78 L363.51 120.77 L362.95 119.77 L362.39 118.76 L361.82 117.75 L361.26 116.76 L360.68 115.78 L360.1 114.8 L359.5 113.84 L358.89 112.88 L358.25 111.92 L357.6 110.97 L356.93 110.03 L356.23 109.08 L355.51 108.14 L354.75 107.2 L353.91 106.32 L353 105.53 L352.03 104.82 L351.01 104.22 L349.97 103.71 L348.9 103.3 L347.84 103.01 L346.75 102.88 L345.6 102.98 L344.45 103.27 L343.31 103.73 L342.24 104.34 L341.25 105.04 L340.32 105.76 L339.43 106.49 L338.59 107.25 L337.78 108.04 L336.99 108.87 L336.22 109.74 L335.46 110.64 L334.71 111.54 L333.97 112.44 L333.23 113.34 L332.51 114.25 L331.8 115.16 L331.11 116.08 L330.44 117.02 L329.8 117.96 L329.18 118.93 L328.59 119.91 L328.03 120.92 L327.51 121.95 L327.03 123.01 L326.58 124.07 L326.15 125.15 L325.76 126.24 L325.38 127.33 L325.02 128.43 L324.67 129.53 L324.32 130.63 L323.98 131.73 L323.64 132.84 L323.29 133.93 L322.93 135.03 L322.55 136.11 L322.16 137.19 L321.74 138.26 L321.29 139.32 L320.83 140.37 L320.36 141.43 L319.89 142.48 L319.43 143.53 L318.95 144.58 L318.48 145.63 L318 146.68 L317.51 147.73 L317.02 148.77 L316.53 149.81 L316.02 150.85 L315.52 151.89 L315 152.92 L314.47 153.95 L313.94 154.98 L313.4 156Z" fill="#ededed"/>
<path d="M313.4 98 L314.71 97.83 L316.02 97.72 L317.33 97.66 L318.63 97.66 L319.94 97.7 L321.24 97.79 L322.53 97.94 L323.82 98.17 L325.11 98.46 L326.39 98.82 L327.65 99.22 L328.89 99.66 L330.11 100.13 L331.31 100.63 L332.49 101.17 L333.66 101.74 L334.82 102.35 L335.97 102.99 L337.11 103.66 L338.25 104.36 L339.38 105.08 L340.48 105.82 L341.57 106.57 L342.63 107.34 L343.68 108.13 L344.71 108.93 L345.73 109.75 L346.72 110.58 L347.71 111.44 L348.67 112.31 L349.63 113.2 L350.57 114.11 L351.49 115.04 L352.4 115.99 L353.29 116.97 L354.09 118.01 L354.82 119.1 L355.51 120.22 L356.18 121.36 L356.85 122.49 L357.54 123.61 L358.28 124.69 L359.08 125.71 L359.97 126.67 L360.92 127.58 L361.88 128.47 L362.85 129.35 L363.84 130.21 L364.85 131.05 L365.87 131.87 L366.92 132.66 L367.98 133.41 L369.07 134.15 L370.15 134.88 L371.24 135.61 L372.33 136.34 L373.41 137.07 L374.5 137.79 L375.59 138.52 L376.68 139.25 L377.76 139.98 L378.85 140.7 L379.94 141.43 L381.03 142.15 L382.12 142.88 L383.21 143.6 L384.3 144.33 L385.39 145.06 L386.45 145.82 L387.49 146.62 L388.5 147.45 L389.5 148.3 L390.5 147.62 L391.41 146.86 L392.21 145.99 L392.93 145.04 L393.62 144.08 L394.28 143.09 L394.89 142.07 L395.46 141.03 L395.98 139.96 L396.45 138.87 L396.92 137.78 L397.38 136.68 L397.81 135.58 L398.23 134.47 L398.62 133.35 L398.99 132.22 L399.35 131.09 L399.71 129.96 L400.06 128.83 L400.43 127.7 L400.8 126.58 L401.2 125.46 L401.64 124.36 L402.09 123.26 L402.53 122.16 L402.93 121.04 L403.26 119.91 L403.59 118.77 L403.92 117.63 L404.24 116.48 L404.56 115.34 L404.87 114.2 L405.19 113.06 L405.5 111.91 L405.82 110.77 L406.14 109.63 L406.46 108.49 L406.79 107.35 L407.11 106.21 L407.43 105.06 L407.76 103.92 L408.08 102.78 L408.41 101.65 L408.74 100.51 L409.07 99.37 L409.41 98.23 L409.75 97.1 L410.1 95.96 L410.46 94.83 L410.85 93.71 L411.29 92.61 L411.78 91.53 L412.29 90.46 L412.82 89.39 L413.35 88.33 L413.87 87.26 L414.4 86.2 L414.97 85.16 L415.55 84.12 L416.11 83.08 L416.63 82.01 L417.06 80.91 L417.42 79.78 L417.74 78.63 L418.04 77.49 L418.38 76.35 L418.77 75.23 L419.19 74.12 L419.62 73.02 L420.07 71.92 L420.53 70.83 L421 69.74 L421.5 68.66 L422.01 67.6 L422.56 66.58 L423.15 65.57 L423.78 64.56 L424.46 63.56 L425.19 62.54 L425.96 61.48 L426.77 60.39 L427.61 59.35 L428.47 58.44 L429.36 57.71 L430.25 57.23 L431.16 57.08 L432.11 57.26 L433.09 57.71 L434.09 58.38 L435.09 59.21 L436.07 60.16 L437.02 61.15 L437.92 62.15 L438.75 63.09 L439.54 64.01 L440.3 64.92 L441.04 65.84 L441.77 66.76 L442.48 67.69 L443.19 68.63 L443.91 69.58 L444.64 70.52 L445.36 71.46 L446.07 72.41 L446.76 73.37 L447.42 74.36 L448.03 75.38 L448.57 76.44 L449.04 77.53 L449.45 78.65 L449.8 79.78 L450.12 80.93 L450.42 82.08 L450.71 83.23 L451.01 84.39 L451.33 85.53 L451.68 86.66 L452.09 87.77 L452.53 88.87 L453 89.96 L453.47 91.05 L453.95 92.13 L454.43 93.22 L454.92 94.3 L455.4 95.39 L455.87 96.48 L456.33 97.57 L456.78 98.67 L457.21 99.77 L457.62 100.88 L458 102 L458.35 103.13 L458.69 104.27 L459.01 105.41 L459.33 106.55 L459.65 107.7 L459.97 108.84 L460.3 109.98 L460.64 111.12 L461.01 112.25 L461.4 113.37 L461.81 114.48 L462.24 115.58 L462.68 116.68 L463.15 117.77 L463.62 118.85 L464.12 119.92 L464.63 120.99 L465.16 122.06 L465.7 123.12 L466.26 124.18 L466.83 125.23 L467.43 126.26 L468.08 127.26 L468.76 128.22 L469.49 129.15 L470.26 130.05 L471.07 130.92 L471.93 131.77 L472.83 132.59 L473.75 133.38 L474.69 134.12 L475.65 134.82 L476.62 135.48 L477.62 136.11 L478.63 136.71 L479.66 137.29 L480.72 137.83 L481.8 138.36 L482.89 138.86 L483.99 139.35 L485.09 139.82 L486.2 140.26 L487.31 140.69 L488.42 141.09 L489.54 141.47 L490.66 141.83 L491.79 142.17 L492.93 142.49 L494.08 142.78 L495.24 143.05 L496.4 143.3 L497.56 143.52 L498.72 143.72 L499.89 143.9 L501.06 144.06 L502.24 144.19 L503.42 144.3 L504.61 144.38 L505.8 144.44 L507 144.48 L508.2 144.5 L508.2 157.4 L507.06 157.43 L505.92 157.45 L504.78 157.45 L503.64 157.43 L502.5 157.41 L501.37 157.38 L500.23 157.33 L499.09 157.28 L497.96 157.23 L496.82 157.17 L495.69 157.09 L494.55 157 L493.42 156.89 L492.29 156.76 L491.16 156.61 L490.04 156.44 L488.91 156.25 L487.79 156.04 L486.66 155.8 L485.56 155.52 L484.47 155.2 L483.39 154.83 L482.33 154.42 L481.29 153.98 L480.25 153.5 L479.22 152.99 L478.2 152.45 L477.19 151.89 L476.22 151.29 L475.28 150.67 L474.35 150.02 L473.44 149.34 L472.53 148.63 L471.63 147.92 L470.75 147.19 L469.91 146.43 L469.1 145.62 L468.36 144.76 L467.67 143.84 L467.04 142.89 L466.44 141.91 L465.88 140.92 L465.34 139.91 L464.81 138.9 L464.29 137.89 L463.77 136.88 L463.23 135.88 L462.67 134.89 L462.08 133.93 L461.45 132.98 L460.77 132.07 L460.08 131.16 L459.39 130.25 L458.71 129.33 L458.09 128.38 L457.52 127.4 L456.98 126.4 L456.46 125.38 L455.96 124.36 L455.46 123.34 L454.96 122.31 L454.46 121.29 L453.95 120.27 L453.42 119.27 L452.87 118.27 L452.31 117.28 L451.75 116.29 L451.19 115.29 L450.63 114.3 L450.07 113.31 L449.51 112.32 L448.95 111.33 L448.39 110.34 L447.84 109.35 L447.3 108.36 L446.77 107.36 L446.25 106.36 L445.73 105.37 L445.21 104.37 L444.69 103.37 L444.15 102.37 L443.61 101.37 L443.04 100.37 L442.45 99.37 L441.84 98.37 L441.18 97.36 L440.42 96.27 L439.58 95.2 L438.69 94.25 L437.78 93.5 L436.86 93.05 L435.98 93 L435.1 93.31 L434.23 93.85 L433.35 94.57 L432.46 95.42 L431.59 96.33 L430.72 97.26 L429.86 98.14 L429.02 99 L428.22 99.84 L427.44 100.68 L426.7 101.53 L425.99 102.39 L425.31 103.27 L424.66 104.18 L424.04 105.13 L423.45 106.11 L422.88 107.1 L422.33 108.1 L421.79 109.1 L421.26 110.11 L420.72 111.11 L420.19 112.12 L419.65 113.12 L419.1 114.11 L418.54 115.1 L417.95 116.08 L417.35 117.04 L416.74 118 L416.13 118.96 L415.53 119.93 L414.94 120.9 L414.36 121.89 L413.79 122.87 L413.23 123.86 L412.68 124.86 L412.13 125.85 L411.58 126.85 L411.05 127.86 L410.55 128.88 L410.07 129.91 L409.58 130.94 L409.09 131.97 L408.57 132.98 L408.01 133.98 L407.43 134.95 L406.84 135.93 L406.24 136.9 L405.64 137.86 L405.04 138.83 L404.44 139.8 L403.84 140.76 L403.23 141.73 L402.63 142.69 L402.02 143.65 L401.41 144.61 L400.8 145.57 L400.19 146.53 L399.58 147.5 L398.97 148.46 L398.36 149.42 L397.76 150.39 L397.21 151.38 L396.69 152.38 L396.18 153.4 L395.69 154.43 L395.18 155.45 L394.64 156.46 L394.06 157.44 L393.44 158.37 L392.77 159.26 L392.05 160.12 L391.27 160.94 L390.41 161.74 L389.47 162.52 L388.47 163.22 L387.44 163.78 L386.37 164.19 L385.29 164.47 L384.19 164.61 L383.06 164.62 L381.93 164.52 L380.79 164.31 L379.67 164 L378.58 163.6 L377.51 163.18 L376.46 162.74 L375.44 162.26 L374.44 161.73 L373.47 161.12 L372.52 160.45 L371.6 159.76 L370.71 159.05 L369.85 158.31 L369.02 157.55 L368.22 156.74 L367.45 155.9 L366.68 155.05 L365.92 154.21 L365.16 153.36 L364.41 152.5 L363.67 151.64 L362.94 150.77 L362.21 149.89 L361.5 149.01 L360.78 148.13 L360.06 147.24 L359.35 146.35 L358.64 145.46 L357.93 144.57 L357.22 143.68 L356.51 142.79 L355.8 141.9 L355.09 141.01 L354.39 140.12 L353.68 139.23 L352.97 138.34 L352.27 137.44 L351.62 136.52 L350.99 135.57 L350.35 134.63 L349.7 133.7 L349 132.8 L348.24 131.94 L347.39 131.14 L346.48 130.45 L345.53 129.83 L344.53 129.29 L343.5 128.79 L342.45 128.34 L341.38 127.9 L340.31 127.48 L339.25 127.04 L338.2 126.59 L337.16 126.11 L336.12 125.63 L335.09 125.16 L334.05 124.69 L333.01 124.22 L331.97 123.75 L330.93 123.3 L329.89 122.85 L328.84 122.41 L327.78 121.99 L326.72 121.57 L325.66 121.17 L324.58 120.81 L323.5 120.47 L322.4 120.17 L321.3 119.9 L320.19 119.65 L319.07 119.43 L317.95 119.23 L316.82 119.05 L315.69 118.89 L314.55 118.74 L313.4 118.6Z" fill="rgba(150,150,150,0.385)"/>
<path d="M313.5 131.94 L314.47 129.47 L315.44 127.01 L316.41 124.55 L317.39 122.11 L318.36 119.69 L319.33 117.28 L320.3 114.9 L321.27 112.55 L322.24 110.23 L323.21 107.95 L324.19 105.71 L325.16 103.51 L326.13 101.37 L327.1 99.27 L328.07 97.23 L329.04 95.26 L330.02 93.35 L330.99 91.5 L331.96 89.74 L332.93 88.04 L333.9 86.43 L334.87 84.91 L335.84 83.48 L336.82 82.13 L337.79 80.89 L338.76 79.75 L339.73 78.72 L340.7 77.79 L341.67 76.98 L342.64 76.29 L343.62 75.72 L344.59 75.27 L345.56 74.96 L346.53 74.78 L347.5 74.74 L348.47 74.84 L349.45 75.09 L350.42 75.49 L351.39 76.05 L352.36 76.76 L353.33 77.63 L354.3 78.66 L355.27 79.84 L356.25 81.15 L357.22 82.59 L358.19 84.16 L359.16 85.84 L360.13 87.62 L361.1 89.5 L362.07 91.46 L363.05 93.51 L364.02 95.63 L364.99 97.81 L365.96 100.04 L366.93 102.33 L367.9 104.65 L368.88 106.99 L369.85 109.37 L370.82 111.75 L371.79 114.14 L372.76 116.52 L373.73 118.89 L374.7 121.25 L375.68 123.57 L376.65 125.86 L377.62 128.1 L378.59 130.29 L379.56 132.41 L380.53 134.47 L381.5 136.44 L382.48 138.33 L383.45 140.13 L384.42 141.82 L385.39 143.4 L386.36 144.85 L387.33 146.18 L388.31 147.38 L389.28 148.42 L390.25 149.32 L391.22 150.05 L392.19 150.61 L393.16 151.01 L394.13 151.25 L395.11 151.34 L396.08 151.29 L397.05 151.09 L398.02 150.76 L398.99 150.3 L399.96 149.73 L400.94 149.03 L401.91 148.23 L402.88 147.33 L403.85 146.33 L404.82 145.24 L405.79 144.07 L406.76 142.82 L407.74 141.5 L408.71 140.11 L409.68 138.66 L410.65 137.16 L411.62 135.62 L412.59 134.03 L413.56 132.41 L414.54 130.76 L415.51 129.08 L416.48 127.4 L417.45 125.7 L418.42 124 L419.39 122.3 L420.37 120.61 L421.34 118.93 L422.31 117.28 L423.28 115.65 L424.25 114.06 L425.22 112.51 L426.19 111 L427.17 109.54 L428.14 108.15 L429.11 106.81 L430.08 105.55 L431.05 104.36 L432.02 103.25 L432.99 102.22 L433.97 101.25 L434.94 100.36 L435.91 99.54 L436.88 98.79 L437.85 98.11 L438.82 97.49 L439.8 96.95 L440.77 96.46 L441.74 96.04 L442.71 95.69 L443.68 95.39 L444.65 95.16 L445.62 94.98 L446.6 94.87 L447.57 94.81 L448.54 94.8 L449.51 94.85 L450.48 94.96 L451.45 95.11 L452.42 95.32 L453.4 95.58 L454.37 95.88 L455.34 96.24 L456.31 96.64 L457.28 97.09 L458.25 97.58 L459.23 98.11 L460.2 98.68 L461.17 99.3 L462.14 99.95 L463.11 100.65 L464.08 101.38 L465.05 102.15 L466.03 102.95 L467 103.78 L467.97 104.65 L468.94 105.55 L469.91 106.48 L470.88 107.44 L471.85 108.43 L472.83 109.44 L473.8 110.49 L474.77 111.56 L475.74 112.65 L476.71 113.77 L477.68 114.92 L478.65 116.08 L479.63 117.28 L480.6 118.49 L481.57 119.72 L482.54 120.98 L483.51 122.25 L484.48 123.54 L485.46 124.85 L486.43 126.18 L487.4 127.53 L488.37 128.89 L489.34 130.26 L490.31 131.65 L491.28 133.06 L492.26 134.47 L493.23 135.9 L494.2 137.34 L495.17 138.79 L496.14 140.25 L497.11 141.72 L498.09 143.2 L499.06 144.68 L500.03 146.18 L501 147.67 L501.97 149.18 L502.94 150.69 L503.91 152.2 L504.89 153.71 L505.86 155.23 L506.83 156.75 L507.8 158.27" fill="none" stroke="#000" stroke-width="1.25"/>
<path d="M313.5 109.22 L314.47 109.3 L315.44 109.39 L316.41 109.49 L317.39 109.58 L318.36 109.68 L319.33 109.79 L320.3 109.9 L321.27 110.02 L322.24 110.15 L323.21 110.29 L324.19 110.44 L325.16 110.61 L326.13 110.79 L327.1 110.98 L328.07 111.19 L329.04 111.42 L330.02 111.67 L330.99 111.94 L331.96 112.22 L332.93 112.53 L333.9 112.87 L334.87 113.22 L335.84 113.61 L336.82 114.02 L337.79 114.46 L338.76 114.92 L339.73 115.42 L340.7 115.95 L341.67 116.51 L342.64 117.11 L343.62 117.74 L344.59 118.41 L345.56 119.11 L346.53 119.85 L347.5 120.64 L348.47 121.46 L349.45 122.32 L350.42 123.23 L351.39 124.18 L352.36 125.18 L353.33 126.23 L354.3 127.31 L355.27 128.43 L356.25 129.59 L357.22 130.77 L358.19 131.97 L359.16 133.2 L360.13 134.43 L361.1 135.67 L362.07 136.92 L363.05 138.16 L364.02 139.4 L364.99 140.62 L365.96 141.83 L366.93 143.02 L367.9 144.18 L368.88 145.31 L369.85 146.41 L370.82 147.46 L371.79 148.47 L372.76 149.43 L373.73 150.33 L374.7 151.17 L375.68 151.95 L376.65 152.66 L377.62 153.29 L378.59 153.85 L379.56 154.32 L380.53 154.7 L381.5 154.99 L382.48 155.17 L383.45 155.26 L384.42 155.23 L385.39 155.1 L386.36 154.84 L387.33 154.46 L388.31 153.96 L389.28 153.32 L390.25 152.54 L391.22 151.62 L392.19 150.55 L393.16 149.35 L394.13 148.01 L395.11 146.56 L396.08 144.98 L397.05 143.3 L398.02 141.52 L398.99 139.65 L399.96 137.69 L400.94 135.66 L401.91 133.57 L402.88 131.41 L403.85 129.2 L404.82 126.95 L405.79 124.66 L406.76 122.35 L407.74 120.02 L408.71 117.68 L409.68 115.33 L410.65 112.99 L411.62 110.66 L412.59 108.36 L413.56 106.08 L414.54 103.84 L415.51 101.64 L416.48 99.5 L417.45 97.42 L418.42 95.41 L419.39 93.47 L420.37 91.63 L421.34 89.87 L422.31 88.21 L423.28 86.67 L424.25 85.24 L425.22 83.94 L426.19 82.77 L427.17 81.74 L428.14 80.86 L429.11 80.14 L430.08 79.59 L431.05 79.2 L432.02 78.98 L432.99 78.93 L433.97 79.02 L434.94 79.27 L435.91 79.66 L436.88 80.18 L437.85 80.84 L438.82 81.61 L439.8 82.51 L440.77 83.51 L441.74 84.62 L442.71 85.83 L443.68 87.13 L444.65 88.51 L445.62 89.98 L446.6 91.52 L447.57 93.12 L448.54 94.78 L449.51 96.5 L450.48 98.27 L451.45 100.08 L452.42 101.92 L453.4 103.8 L454.37 105.69 L455.34 107.6 L456.31 109.53 L457.28 111.45 L458.25 113.38 L459.23 115.3 L460.2 117.2 L461.17 119.08 L462.14 120.93 L463.11 122.75 L464.08 124.53 L465.05 126.27 L466.03 127.95 L467 129.57 L467.97 131.13 L468.94 132.62 L469.91 134.03 L470.88 135.36 L471.85 136.62 L472.83 137.81 L473.8 138.93 L474.77 139.99 L475.74 140.97 L476.71 141.9 L477.68 142.76 L478.65 143.56 L479.63 144.3 L480.6 144.99 L481.57 145.62 L482.54 146.2 L483.51 146.73 L484.48 147.21 L485.46 147.64 L486.43 148.03 L487.4 148.38 L488.37 148.69 L489.34 148.95 L490.31 149.19 L491.28 149.38 L492.26 149.55 L493.23 149.68 L494.2 149.78 L495.17 149.86 L496.14 149.91 L497.11 149.94 L498.09 149.94 L499.06 149.93 L500.03 149.9 L501 149.85 L501.97 149.8 L502.94 149.72 L503.91 149.64 L504.89 149.56 L505.86 149.46 L506.83 149.36 L507.8 149.26" fill="none" stroke="#000" stroke-width="1.4" stroke-dasharray="3.5 2.3"/>
<rect x="311.55" y="129.99" width="3.9" height="3.9" fill="#000"/><rect x="350.41" y="74.81" width="3.9" height="3.9" fill="#000"/><rect x="389.27" y="148.1" width="3.9" height="3.9" fill="#000"/><rect x="428.13" y="103.6" width="3.9" height="3.9" fill="#000"/><rect x="466.99" y="103.6" width="3.9" height="3.9" fill="#000"/><rect x="505.85" y="156.32" width="3.9" height="3.9" fill="#000"/>
<circle cx="313.5" cy="109.22" r="2.3" fill="#000"/><circle cx="352.36" cy="125.18" r="2.3" fill="#000"/><circle cx="391.22" cy="151.62" r="2.3" fill="#000"/><circle cx="430.08" cy="79.59" r="2.3" fill="#000"/><circle cx="468.94" cy="132.62" r="2.3" fill="#000"/><circle cx="507.8" cy="149.26" r="2.3" fill="#000"/>
<path d="M294.2 9.8 V188.6 H523.3" fill="none" stroke="#000" stroke-width="1.2"/><path d="M294.2 4.8 l-2.6 7 h5.2z" fill="#000"/><path d="M528.3 188.6 l-7 -2.6 v5.2z" fill="#000"/><path d="M294.2 175.7 h3.6" stroke="#000" stroke-width="1.2"/><text x="290" y="178.92" font-size="9.75" text-anchor="end">0.0</text><path d="M294.2 149.52 h3.6" stroke="#000" stroke-width="1.2"/><text x="290" y="152.74" font-size="9.75" text-anchor="end">0.5</text><path d="M294.2 123.35 h3.6" stroke="#000" stroke-width="1.2"/><text x="290" y="126.57" font-size="9.75" text-anchor="end">1.0</text><path d="M294.2 97.17 h3.6" stroke="#000" stroke-width="1.2"/><text x="290" y="100.39" font-size="9.75" text-anchor="end">1.5</text><path d="M294.2 71 h3.6" stroke="#000" stroke-width="1.2"/><text x="290" y="74.22" font-size="9.75" text-anchor="end">2.0</text><path d="M294.2 44.82 h3.6" stroke="#000" stroke-width="1.2"/><text x="290" y="48.04" font-size="9.75" text-anchor="end">2.5</text><path d="M294.2 18.65 h3.6" stroke="#000" stroke-width="1.2"/><text x="290" y="21.87" font-size="9.75" text-anchor="end">3.0</text><path d="M313.5 188.6 v-3.8" stroke="#000" stroke-width="1.2"/><text transform="translate(320 198.1) rotate(-28.5)" font-size="9.6" text-anchor="end">2018Spring</text><path d="M352.36 188.6 v-3.8" stroke="#000" stroke-width="1.2"/><text transform="translate(358.86 198.1) rotate(-28.5)" font-size="9.6" text-anchor="end">2018Summer</text><path d="M391.22 188.6 v-3.8" stroke="#000" stroke-width="1.2"/><text transform="translate(397.72 198.1) rotate(-28.5)" font-size="9.6" text-anchor="end">2018Autumn</text><path d="M430.08 188.6 v-3.8" stroke="#000" stroke-width="1.2"/><text transform="translate(436.58 198.1) rotate(-28.5)" font-size="9.6" text-anchor="end">2019Spring</text><path d="M468.94 188.6 v-3.8" stroke="#000" stroke-width="1.2"/><text transform="translate(475.44 198.1) rotate(-28.5)" font-size="9.6" text-anchor="end">2019Summer</text><path d="M507.8 188.6 v-3.8" stroke="#000" stroke-width="1.2"/><text transform="translate(514.3 198.1) rotate(-28.5)" font-size="9.6" text-anchor="end">2019Autumn</text><text transform="translate(269.2 96.6) rotate(-90)" font-size="10.1" text-anchor="middle">Capture rate (%)</text>
<path d="M451.2 16.8 H474.3" stroke="#111" stroke-width="1.2"/><rect x="460.8" y="14.85" width="3.9" height="3.9" fill="#000"/><path d="M451.2 28.6 H474.3" stroke="#111" stroke-width="1.2" stroke-dasharray="3 2.2"/><circle cx="462.75" cy="28.6" r="2.3" fill="#000"/><text x="476.3" y="19.53" font-size="9.75">Control area</text><text x="476.3" y="31.33" font-size="9.75">Experimental area</text>
<text x="408.2" y="242" font-size="13.2" text-anchor="middle">(b)</text>
</svg></body></html>
